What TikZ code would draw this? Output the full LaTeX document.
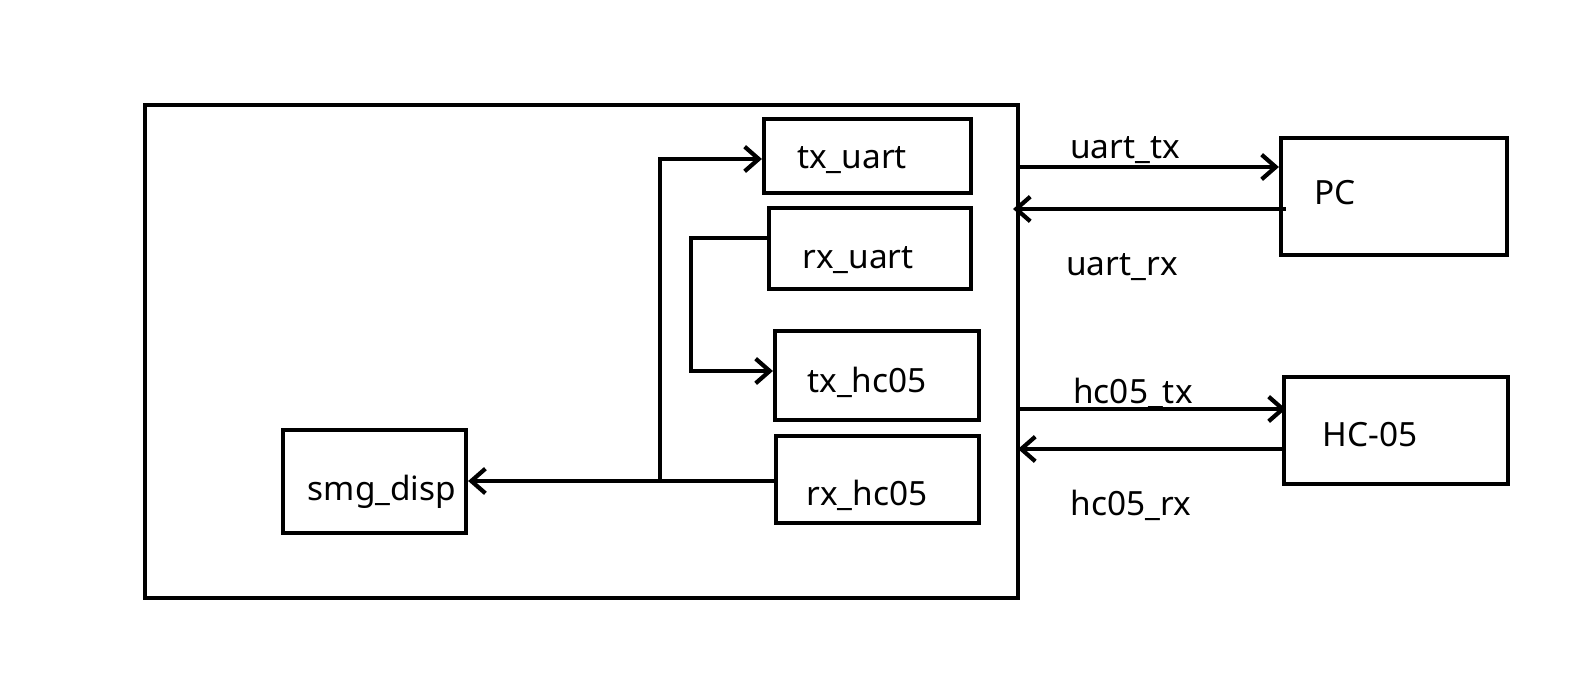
\documentclass[tikz,border=0pt]{standalone}
\usepackage{fontspec}
\setmainfont{Noto Sans}
\usetikzlibrary{arrows.meta}
\begin{document}
\begin{tikzpicture}[x=0.02cm,y=-0.02cm,
  box/.style={draw,line width=2.4pt,rectangle},
  lbl/.style={font=\fontsize{19}{22}\selectfont,inner sep=0pt},
  ln/.style={line width=2.4pt},
  arr/.style={line width=2.4pt,-{Straight Barb[length=8pt,width=14pt,line width=2.4pt]}}]
\useasboundingbox (0,0) rectangle (1594,692);
\draw[box] (145,105) rectangle (1018,598);
\coordinate (bigE) at (1018,350);
\node[box,minimum width=207*0.02cm,minimum height=74*0.02cm] (txu) at (867.5,156) {};
\node[box,minimum width=202*0.02cm,minimum height=81*0.02cm] (rxu) at (870,248.5) {};
\node[box,minimum width=204*0.02cm,minimum height=89*0.02cm] (txh) at (877,375.5) {};
\node[box,minimum width=203*0.02cm,minimum height=87*0.02cm] (rxh) at (877.5,479.5) {};
\node[box,minimum width=183*0.02cm,minimum height=103*0.02cm] (smg) at (374.5,481.5) {};
\node[box,minimum width=226*0.02cm,minimum height=117*0.02cm] (pc) at (1394,196.5) {};
\node[box,minimum width=224*0.02cm,minimum height=107*0.02cm] (hc) at (1396,430.5) {};
\node[lbl] (t1) at (852,160) {tx\_uart};
\node[lbl] (t2) at (858,260) {rx\_uart};
\node[lbl] (t3) at (867,382) {tx\_hc05};
\node[lbl] (t4) at (867,495) {rx\_hc05};
\node[lbl] (t5) at (382,492) {smg\_disp};
\node[lbl] (t6) at (1335,193) {PC};
\node[lbl] (t7) at (1370,435) {HC-05};
\node[lbl] (l1) at (1125,150) {uart\_tx};
\node[lbl] (l2) at (1122,267) {uart\_rx};
\node[lbl] (l3) at (1133,393) {hc05\_tx};
\node[lbl] (l4) at (1131,505) {hc05\_rx};
\coordinate (j1) at (660,481);
\draw[arr] (rxh.west |- 0,481) -- (smg.east |- 0,481);
\draw[arr] (j1) -- (660,159) -- (txu.west |- 0,159);
\draw[arr] (rxu.west |- 0,238) -- (691,238) -- (691,371) -- (txh.west |- 0,371);
\draw[arr] (bigE |- 0,167) -- (pc.west |- 0,167);
\draw[arr] ([xshift=0.14cm]pc.west |- 0,209) -- ([xshift=-0.1cm]bigE |- 0,209);
\draw[arr] (bigE |- 0,409) -- ([xshift=0.08cm]hc.west |- 0,409);
\draw[arr] ([xshift=0.08cm]hc.west |- 0,449) -- (bigE |- 0,449);
\end{tikzpicture}
\end{document}
